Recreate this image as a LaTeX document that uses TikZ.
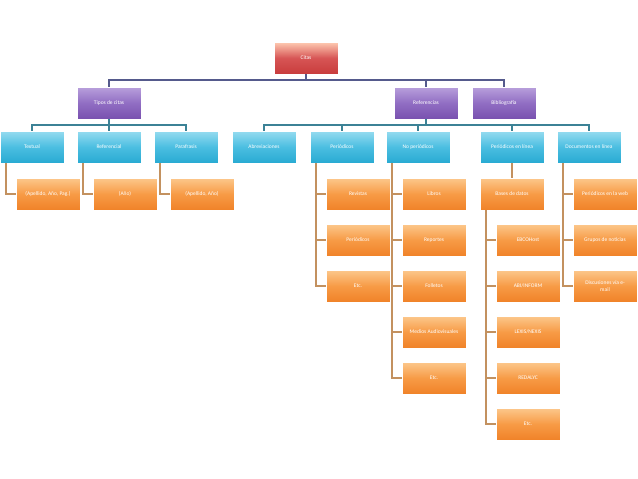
\documentclass[tikz,border=0pt]{standalone}
\usepackage{fontspec}
\setmainfont{Carlito}
\begin{document}
\begin{tikzpicture}[x=1pt,y=-1pt,
 box/.style={minimum width=64pt,minimum height=32pt,inner sep=1pt,text=white,font=\fontsize{5.5}{6.5}\selectfont,align=center,draw=white,line width=0.6pt},
 red/.style={box,top color=red!35!orange!30!white,bottom color={rgb,255:red,200;green,60;blue,60},middle color={rgb,255:red,215;green,85;blue,85}},
 pur/.style={box,top color={rgb,255:red,185;green,160;blue,220},bottom color={rgb,255:red,120;green,80;blue,175},middle color={rgb,255:red,145;green,110;blue,195}},
 cy/.style={box,top color={rgb,255:red,150;green,220;blue,240},bottom color={rgb,255:red,40;green,170;blue,210},middle color={rgb,255:red,75;green,190;blue,225}},
 org/.style={box,top color={rgb,255:red,252;green,200;blue,140},bottom color={rgb,255:red,240;green,130;blue,40},middle color={rgb,255:red,247;green,155;blue,70}},
 c1/.style={draw={rgb,255:red,85;green,90;blue,140},line width=2pt},
 c2/.style={draw={rgb,255:red,60;green,130;blue,150},line width=2pt},
 c3/.style={draw={rgb,255:red,195;green,145;blue,95},line width=2pt}]
\useasboundingbox[fill=white] (0,0) rectangle (638,479);
% connectors first
\coordinate (bus1) at (0,80);
\coordinate (bus2) at (0,125);
\node[red] (citas) at (306,58) {Citas};
\node[pur] (tipos) at (109,103) {Tipos de citas};
\node[pur] (refs) at (426,103) {Referencias};
\node[pur] (bib) at (504,103) {Bibliografía};
\node[cy] (tex) at (32,147) {Textual};
\node[cy] (ref) at (109,147) {Referencial};
\node[cy] (par) at (186,147) {Parafrasis};
\node[cy] (abr) at (264,147) {Abreviaciones};
\node[cy] (per) at (342,147) {Periódicos};
\node[cy] (nop) at (418,147) {No periódicos};
\node[cy] (pel) at (512,147) {Periódicos en línea};
\node[cy] (doc) at (589,147) {Documentos en línea};
\begin{scope}[on background layer/.style={}]
\end{scope}
\begin{pgfinterruptboundingbox}\end{pgfinterruptboundingbox}
% orange
\node[org] (o1) at (48,194) {(Apellido, Año, Pag.)};
\node[org] (o2) at (125,194) {(Año)};
\node[org] (o3) at (202,194) {(Apellido, Año)};
\node[org] (p1) at (358,194) {Revistas};
\node[org] (p2) at (358,240) {Periódicos};
\node[org] (p3) at (358,286) {Etc.};
\node[org] (n1) at (434,194) {Libros};
\node[org] (n2) at (434,240) {Reportes};
\node[org] (n3) at (434,286) {Folletos};
\node[org] (n4) at (434,332) {Medios Audiovisuales};
\node[org] (n5) at (434,378) {Etc.};
\node[org] (bd) at (512,194) {Bases de datos};
\node[org] (b1) at (528,240) {EBCOHost};
\node[org] (b2) at (528,286) {ABI/INFORM};
\node[org] (b3) at (528,332) {LEXIS/NEXIS};
\node[org] (b4) at (528,378) {REDALYC};
\node[org] (b5) at (528,424) {Etc.};
\node[org] (d1) at (605,194) {Periódicos en la web};
\node[org] (d2) at (605,240) {Grupos de noticias};
\node[org] (d3) at (605,286) {Discusiones vía e-\\mail};
% connectors drawn beneath by redrawing nodes after is complex; draw lines touching node borders
\draw[c1] (citas.south) -- (citas.south |- bus1) -| (tipos.north);
\draw[c1] (citas.south |- bus1) -| (refs.north);
\draw[c1] (citas.south |- bus1) -| (bib.north);
\draw[c2] (tipos.south) -- (tipos.south |- bus2) -| (tex.north);
\draw[c2] (tipos.south |- bus2) -| (ref.north);
\draw[c2] (tipos.south |- bus2) -| (par.north);
\foreach \t in {abr,per,nop,pel,doc}{\draw[c2] (refs.south) -- (refs.south |- bus2) -| (\t.north);}
\foreach \p/\c in {tex/o1,ref/o2,par/o3,per/p1,per/p2,per/p3,nop/n1,nop/n2,nop/n3,nop/n4,nop/n5,doc/d1,doc/d2,doc/d3,bd/b1,bd/b2,bd/b3,bd/b4,bd/b5}{
 \draw[c3] ([xshift=6pt]\p.south west) |- (\c.west);}
\draw[c3] (pel.south) -- (bd.north);
\end{tikzpicture}
\end{document}
